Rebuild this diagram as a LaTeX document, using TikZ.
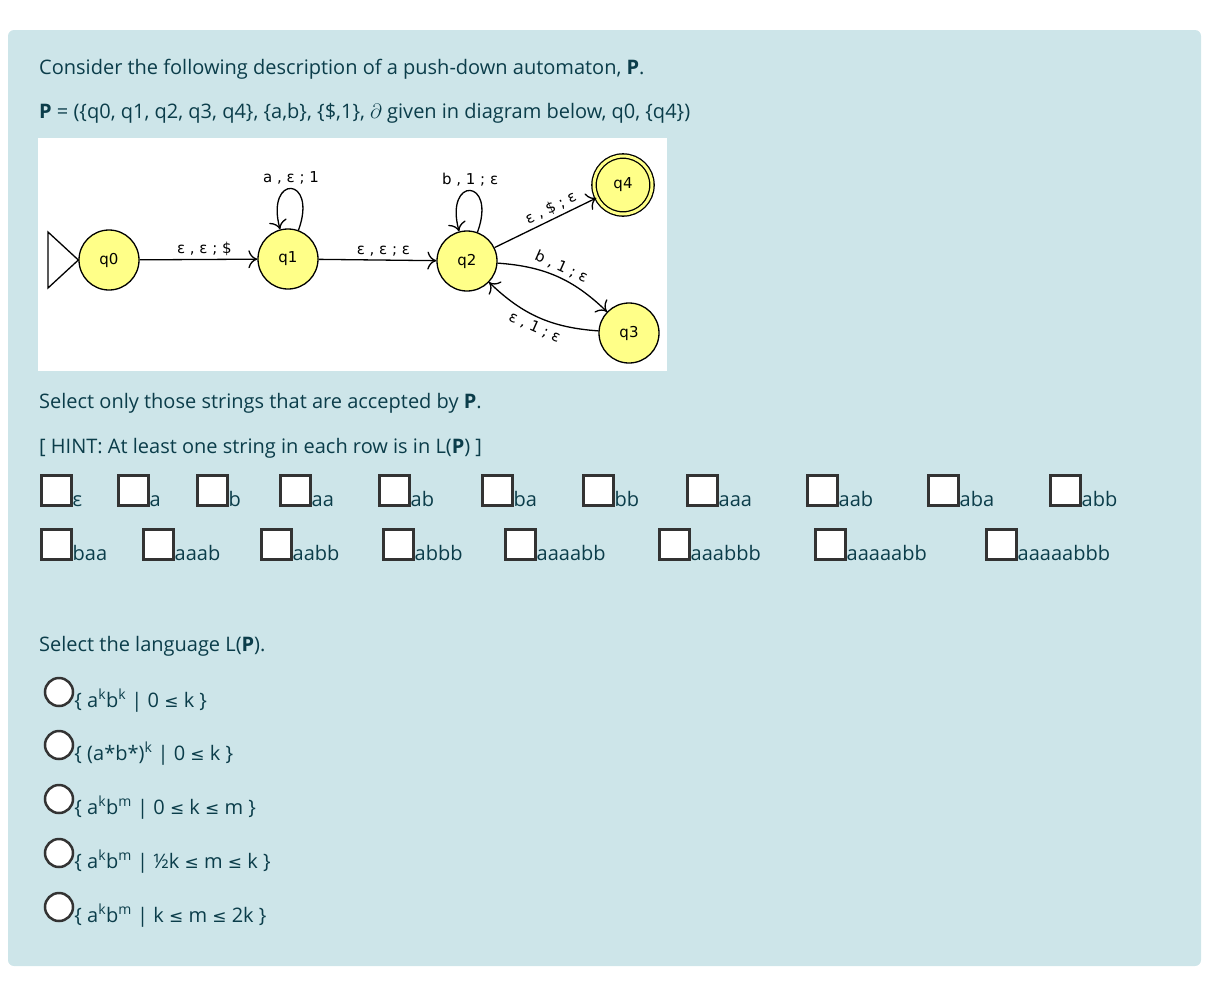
\documentclass[tikz,border=0pt]{standalone}
\usepackage{fontspec}
\setmainfont{Open Sans}
\newfontfamily\statefont{DejaVu Sans}
\newfontfamily\symfont{DejaVu Sans}
\newcommand{\lesym}{{\symfont\fontsize{17}{20}\selectfont ≤}}
\usetikzlibrary{automata}
\usetikzlibrary{positioning}
\usetikzlibrary{arrows.meta}
\definecolor{panel}{HTML}{CDE5E9}
\definecolor{ink}{HTML}{0B3D4A}
\definecolor{statefill}{HTML}{FFFF88}
\tikzset{x=1pt, y=-1pt,
every state/.style={ % yellow states
line width=1.3pt, fill=statefill, minimum size=60pt, inner sep=0pt,
font=\statefont\fontsize{15}{18}\selectfont},
accepting/.style={double=statefill, double distance=3pt},
every edge/.style={ % transitions
draw, ->, >={To[length=9pt,width=18pt]}, line width=1.3pt},
lbl/.style={font=\statefont\fontsize{15}{18}\selectfont},
txt/.style={anchor=base west, inner sep=0pt, text=ink,
font=\fontsize{20}{24}\selectfont},
box/.style={draw=black!80, line width=2.5pt, fill=white, minimum size=30pt,
inner sep=0pt, anchor=north west},
radio/.style={draw=black!80, line width=2.5pt, fill=white, circle,
minimum size=28pt, inner sep=0pt}}

\begin{document}
\begin{tikzpicture}
\useasboundingbox (0,0) rectangle (1206,991);
\fill[panel, rounded corners=6pt] (8,30) rectangle (1201,966);
\fill[white] (38,138) rectangle (667,371);

% question text
\node[txt] (t1) at (39,74) {Consider the following description of a push-down automaton, \textbf{P}.};
\node[txt] (t2) at (39,118) {\textbf{P} = (\{q0, q1, q2, q3, q4\}, \{a,b\}, \{\$,1\}, $\partial$ given in diagram below, q0, \{q4\})};

% automaton
\node[state] (q0) at (109,260) {q0};
\node[state] (q1) at (288,259) {q1};
\node[state] (q2) at (467,261) {q2};
\node[state, accepting, minimum size=58pt] (q4) at (623,185) {q4};
\node[state] (q3) at (629,333) {q3};
\coordinate (i1) at (48,232);
\coordinate (i2) at (48,288);
\draw[line width=1.3pt, fill=white] (i1) -- (q0.west) -- (i2) -- cycle;

\draw (q0) edge node[lbl, above, pos=0.55] {ε , ε ; \$} (q1);
\draw (q1) edge node[lbl, above, pos=0.55] {ε , ε ; ε} (q2);
\draw (q1) edge[out=70, in=105, looseness=8] node[lbl, above] {a , ε ; 1} (q1);
\draw (q2) edge[out=70, in=105, looseness=8] node[lbl, above] {b , 1 ; ε} (q2);
\draw (q2) edge node[lbl, above, sloped, pos=0.6] {ε , \$ ; ε} (q4);
\draw (q2) edge[bend left=20] node[lbl, above, sloped] {b , 1 ; ε} (q3);
\draw (q3) edge[bend left=20] node[lbl, below, sloped] {ε , 1 ; ε} (q2);

\node[txt] (t3) at (39,408) {Select only those strings that are accepted by \textbf{P}.};
\node[txt] (t4) at (39,453) {[ HINT: At least one string in each row is in L(\textbf{P}) ]};

% check boxes
\foreach \x/\s [count=\i] in {40/ε, 117/a, 196/b, 279/aa, 378/ab, 481/ba,
  582/bb, 686/aaa, 806/aab, 927/aba, 1049/abb} {
  \node[box] (ca\i) at (\x,474) {};
  \node[txt] at (ca\i.south east) {\s};
}
\foreach \x/\s [count=\i] in {40/baa, 142/aaab, 260/aabb, 382/abbb,
  504/aaaabb, 658/aaabbb, 814/aaaaabb, 985/aaaaabbb} {
  \node[box] (cb\i) at (\x,528) {};
  \node[txt] at (cb\i.south east) {\s};
}

\node[txt] (t5) at (39,651) {Select the language L(\textbf{P}).};

% radio buttons
\foreach \y/\s [count=\i] in {
  692/{\{ a\textsuperscript{k}b\textsuperscript{k} | 0 \lesym{} k \}},
  745/{\{ (a*b*)\textsuperscript{k} | 0 \lesym{} k \}},
  799/{\{ a\textsuperscript{k}b\textsuperscript{m} | 0 \lesym{} k \lesym{} m \}},
  853/{\{ a\textsuperscript{k}b\textsuperscript{m} | ½k \lesym{} m \lesym{} k \}},
  907/{\{ a\textsuperscript{k}b\textsuperscript{m} | k \lesym{} m \lesym{} 2k \}}} {
  \node[radio] (r\i) at (59,\y) {};
  \node[txt] at ([yshift=-15pt]r\i.east) {\s};
}
\end{tikzpicture}
\end{document}
